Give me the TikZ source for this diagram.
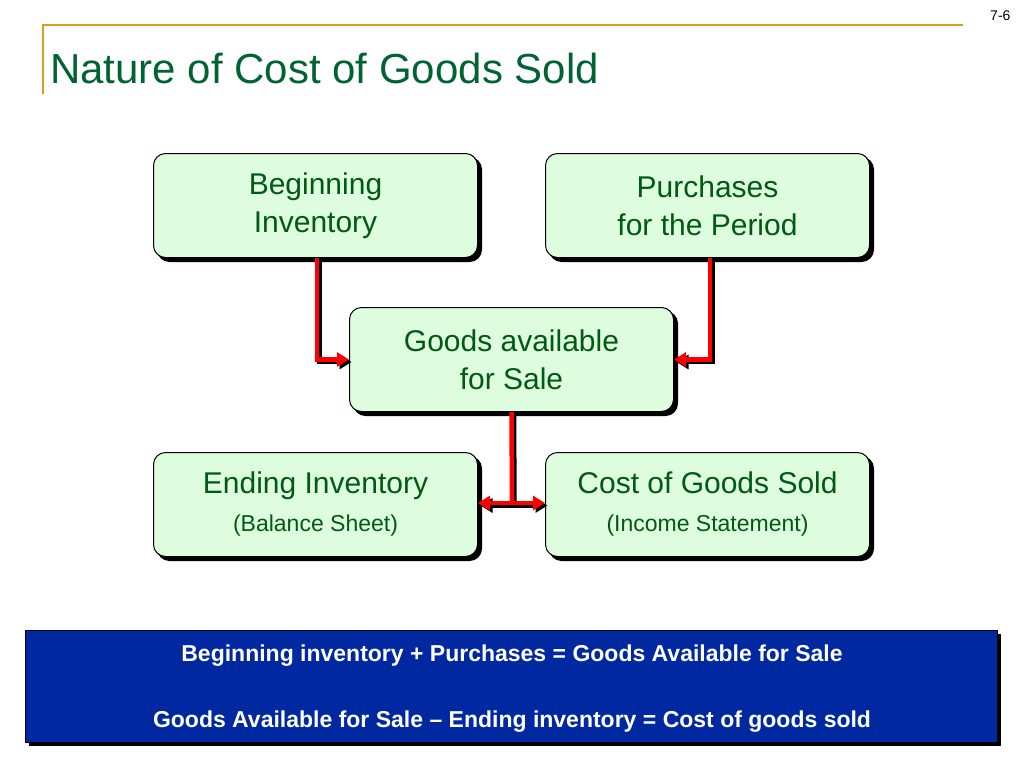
\documentclass[tikz,border=0pt]{standalone}
\usepackage{fontspec}
\setmainfont{Liberation Sans}
\usetikzlibrary{arrows.meta}
\definecolor{tgreen}{RGB}{0,100,50}
\definecolor{bgreen}{RGB}{0,90,20}
\definecolor{boxfill}{RGB}{222,252,222}
\definecolor{gold}{RGB}{210,160,30}
\definecolor{navy}{RGB}{0,40,160}
\tikzset{x=1pt,y=-1pt,
 gbox/.style={draw=black,line width=1pt,fill=boxfill,rounded corners=12pt,minimum width=324pt,minimum height=104pt,align=center,text=bgreen,font=\fontsize{30}{38}\selectfont,anchor=north west,inner sep=0pt,
   preaction={fill=black,draw=black,transform canvas={shift={(4pt,-4pt)}}}},
 sub/.style={font=\fontsize{23}{28}\selectfont},
 rline/.style={draw=red,line width=4.5pt,preaction={draw=black,line width=4.5pt,transform canvas={shift={(2.5pt,-2.5pt)}}}},
 tip/.style={-{Triangle[length=12pt,width=14pt]}},
}
\begin{document}
\begin{tikzpicture}
\useasboundingbox (0,0) rectangle (1024,768);
\draw[gold,line width=2pt] (42,25) -- (963,25);
\draw[gold,line width=2pt] (43,25) -- (43,94);
\node[anchor=east,font=\fontsize{14}{16}\selectfont] (pg) at (1014,16) {7-6};
\node[anchor=west,text=tgreen,font=\fontsize{42}{48}\selectfont,inner sep=0pt] (title) at (50,68) {Nature of Cost of Goods Sold};
\node[gbox] (bi) at (153,153) {Beginning\\Inventory};
\node[gbox] (pp) at (545,153) {Purchases\\for the Period};
\node[gbox] (ga) at (349,307) {Goods available\\for Sale};
\node[gbox] (ei) at (153,452) {Ending Inventory\\{\fontsize{23}{28}\selectfont(Balance Sheet)}};
\node[gbox] (cg) at (545,452) {Cost of Goods Sold\\{\fontsize{23}{28}\selectfont(Income Statement)}};
\coordinate (j) at (512,503);
\draw[rline,tip] (bi.south -| 317,0) |- (ga.west);
\draw[rline,tip] (pp.south -| 710,0) |- (ga.east);
\draw[rline] (ga.south) -- (j);
\draw[rline,{Triangle[length=12pt,width=14pt]}-{Triangle[length=12pt,width=14pt]}] (ei.east |- j) -- (cg.west |- j);
\node[draw=black,fill=navy,anchor=north west,minimum width=972pt,minimum height=112pt,inner sep=0pt,
  preaction={fill=black,transform canvas={shift={(4pt,-4pt)}}}] (fb) at (25,630) {};
\node[text=white,font=\bfseries\fontsize{23}{28}\selectfont] (l1) at (512,656) {Beginning inventory + Purchases = Goods Available for Sale};
\node[text=white,font=\bfseries\fontsize{23}{28}\selectfont] (l2) at (512,722) {Goods Available for Sale – Ending inventory = Cost of goods sold};
\end{tikzpicture}
\end{document}
